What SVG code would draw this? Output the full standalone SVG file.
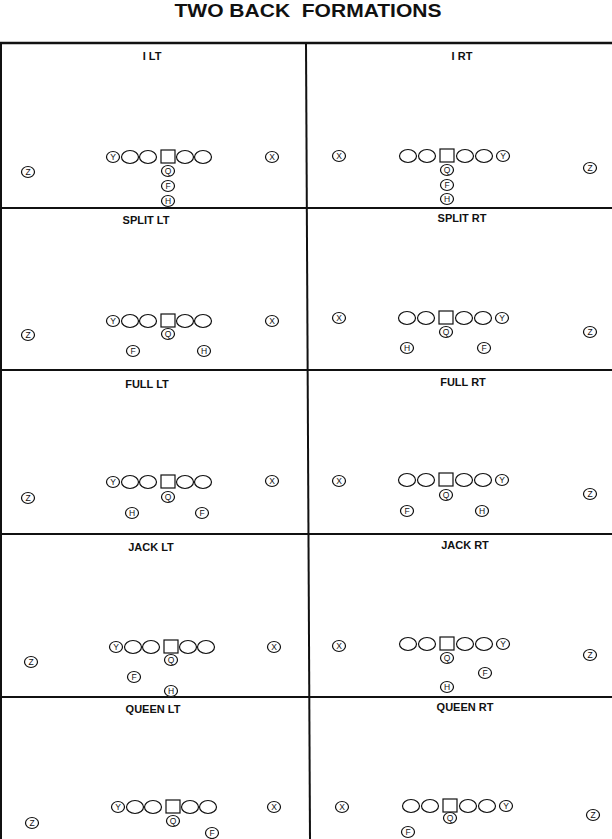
<svg xmlns="http://www.w3.org/2000/svg" xmlns:xlink="http://www.w3.org/1999/xlink" width="612" height="839" viewBox="0 0 612 839">
<style>
.bg{fill:#fff}
.grid{stroke:#111;stroke-width:2;fill:none}
.ol{fill:#fff;stroke:#111;stroke-width:1.2}
.p{fill:#fff;stroke:#111;stroke-width:1.2}
.lt{font-family:"Liberation Sans",Arial,sans-serif;font-size:8.5px;fill:#111;text-anchor:middle}
.lbl{font-family:"Liberation Sans",Arial,sans-serif;font-size:11px;font-weight:bold;fill:#111;text-anchor:middle}
.title{font-family:"Liberation Sans",Arial,sans-serif;font-size:18px;font-weight:bold;fill:#111;text-anchor:middle;white-space:pre}
</style>
<defs>
<g id="lineLT">
<ellipse class="p" cx="-55" cy="0" rx="6.5" ry="5.5"/><text class="lt" x="-55" y="3">Y</text>
<ellipse class="ol" cx="-38" cy="0" rx="8.5" ry="6.5"/>
<ellipse class="ol" cx="-20" cy="0" rx="8.5" ry="6.5"/>
<rect class="ol" x="-7" y="-7" width="14" height="13"/>
<ellipse class="ol" cx="17" cy="0" rx="8.5" ry="6.5"/>
<ellipse class="ol" cx="35" cy="0" rx="8.5" ry="6.5"/>
</g>
<g id="lineRT">
<ellipse class="ol" cx="-39" cy="0" rx="8.5" ry="6.5"/>
<ellipse class="ol" cx="-20" cy="0" rx="8.5" ry="6.5"/>
<rect class="ol" x="-7" y="-7" width="14" height="13"/>
<ellipse class="ol" cx="18" cy="0" rx="8.5" ry="6.5"/>
<ellipse class="ol" cx="37" cy="0" rx="8.5" ry="6.5"/>
<ellipse class="p" cx="56" cy="0" rx="6.5" ry="5.5"/><text class="lt" x="56" y="3">Y</text>
</g>
<g id="pc"><ellipse class="p" cx="0" cy="0" rx="6.5" ry="5.5"/></g>
</defs>
<rect class="bg" x="0" y="0" width="612" height="839"/>
<text class="title" x="308" y="17" textLength="267" lengthAdjust="spacingAndGlyphs">TWO BACK  FORMATIONS</text>
<g id="connectors">
<line class="grid" x1="0" y1="43" x2="612" y2="43" style="stroke-width:2.5"/>
<line class="grid" x1="306" y1="43" x2="310" y2="839"/>
<line class="grid" x1="1" y1="43" x2="1" y2="839"/>
<line class="grid" x1="0" y1="208" x2="612" y2="208"/>
<line class="grid" x1="0" y1="370" x2="612" y2="370"/>
<line class="grid" x1="0" y1="534" x2="612" y2="534"/>
<line class="grid" x1="0" y1="697" x2="612" y2="697"/>
</g>

<g id="i-lt">
<text class="lbl" x="152" y="60">I LT</text>
<use xlink:href="#lineLT" x="168" y="157"/>
<g id="i-lt-q"><use xlink:href="#pc" x="168" y="171"/><text class="lt" x="168" y="174">Q</text></g>
<g id="i-lt-f"><use xlink:href="#pc" x="168" y="186"/><text class="lt" x="168" y="189">F</text></g>
<g id="i-lt-h"><use xlink:href="#pc" x="168" y="201"/><text class="lt" x="168" y="204">H</text></g>
<g id="i-lt-z"><use xlink:href="#pc" x="28" y="172"/><text class="lt" x="28" y="175">Z</text></g>
<g id="i-lt-x"><use xlink:href="#pc" x="272" y="157"/><text class="lt" x="272" y="160">X</text></g>
</g>

<g id="i-rt">
<text class="lbl" x="462" y="60">I RT</text>
<use xlink:href="#lineRT" x="447" y="156"/>
<g id="i-rt-q"><use xlink:href="#pc" x="447" y="170"/><text class="lt" x="447" y="173">Q</text></g>
<g id="i-rt-f"><use xlink:href="#pc" x="447" y="185"/><text class="lt" x="447" y="188">F</text></g>
<g id="i-rt-h"><use xlink:href="#pc" x="447" y="199"/><text class="lt" x="447" y="202">H</text></g>
<g id="i-rt-z"><use xlink:href="#pc" x="590" y="168"/><text class="lt" x="590" y="171">Z</text></g>
<g id="i-rt-x"><use xlink:href="#pc" x="339" y="156"/><text class="lt" x="339" y="159">X</text></g>
</g>

<g id="split-lt">
<text class="lbl" x="146" y="224">SPLIT LT</text>
<use xlink:href="#lineLT" x="168" y="321"/>
<g id="split-lt-q"><use xlink:href="#pc" x="168" y="334"/><text class="lt" x="168" y="337">Q</text></g>
<g id="split-lt-f"><use xlink:href="#pc" x="133" y="351"/><text class="lt" x="133" y="354">F</text></g>
<g id="split-lt-h"><use xlink:href="#pc" x="204" y="351"/><text class="lt" x="204" y="354">H</text></g>
<g id="split-lt-z"><use xlink:href="#pc" x="28" y="335"/><text class="lt" x="28" y="338">Z</text></g>
<g id="split-lt-x"><use xlink:href="#pc" x="272" y="321"/><text class="lt" x="272" y="324">X</text></g>
</g>

<g id="split-rt">
<text class="lbl" x="462" y="222">SPLIT RT</text>
<use xlink:href="#lineRT" x="446" y="318"/>
<g id="split-rt-q"><use xlink:href="#pc" x="446" y="332"/><text class="lt" x="446" y="335">Q</text></g>
<g id="split-rt-h"><use xlink:href="#pc" x="407" y="348"/><text class="lt" x="407" y="351">H</text></g>
<g id="split-rt-f"><use xlink:href="#pc" x="484" y="348"/><text class="lt" x="484" y="351">F</text></g>
<g id="split-rt-z"><use xlink:href="#pc" x="590" y="332"/><text class="lt" x="590" y="335">Z</text></g>
<g id="split-rt-x"><use xlink:href="#pc" x="339" y="318"/><text class="lt" x="339" y="321">X</text></g>
</g>

<g id="full-lt">
<text class="lbl" x="147" y="388">FULL LT</text>
<use xlink:href="#lineLT" x="168" y="482"/>
<g id="full-lt-q"><use xlink:href="#pc" x="168" y="497"/><text class="lt" x="168" y="500">Q</text></g>
<g id="full-lt-h"><use xlink:href="#pc" x="132" y="513"/><text class="lt" x="132" y="516">H</text></g>
<g id="full-lt-f"><use xlink:href="#pc" x="202" y="513"/><text class="lt" x="202" y="516">F</text></g>
<g id="full-lt-z"><use xlink:href="#pc" x="28" y="498"/><text class="lt" x="28" y="501">Z</text></g>
<g id="full-lt-x"><use xlink:href="#pc" x="272" y="481"/><text class="lt" x="272" y="484">X</text></g>
</g>

<g id="full-rt">
<text class="lbl" x="463" y="386">FULL RT</text>
<use xlink:href="#lineRT" x="446" y="480"/>
<g id="full-rt-q"><use xlink:href="#pc" x="446" y="495"/><text class="lt" x="446" y="498">Q</text></g>
<g id="full-rt-f"><use xlink:href="#pc" x="407" y="511"/><text class="lt" x="407" y="514">F</text></g>
<g id="full-rt-h"><use xlink:href="#pc" x="482" y="511"/><text class="lt" x="482" y="514">H</text></g>
<g id="full-rt-z"><use xlink:href="#pc" x="590" y="494"/><text class="lt" x="590" y="497">Z</text></g>
<g id="full-rt-x"><use xlink:href="#pc" x="339" y="481"/><text class="lt" x="339" y="484">X</text></g>
</g>

<g id="jack-lt">
<text class="lbl" x="151" y="551">JACK LT</text>
<use xlink:href="#lineLT" x="171" y="647"/>
<g id="jack-lt-q"><use xlink:href="#pc" x="171" y="660"/><text class="lt" x="171" y="663">Q</text></g>
<g id="jack-lt-f"><use xlink:href="#pc" x="134" y="677"/><text class="lt" x="134" y="680">F</text></g>
<g id="jack-lt-h"><use xlink:href="#pc" x="171" y="691"/><text class="lt" x="171" y="694">H</text></g>
<g id="jack-lt-z"><use xlink:href="#pc" x="31" y="662"/><text class="lt" x="31" y="665">Z</text></g>
<g id="jack-lt-x"><use xlink:href="#pc" x="274" y="647"/><text class="lt" x="274" y="650">X</text></g>
</g>

<g id="jack-rt">
<text class="lbl" x="465" y="549">JACK RT</text>
<use xlink:href="#lineRT" x="447" y="644"/>
<g id="jack-rt-q"><use xlink:href="#pc" x="447" y="658"/><text class="lt" x="447" y="661">Q</text></g>
<g id="jack-rt-f"><use xlink:href="#pc" x="485" y="673"/><text class="lt" x="485" y="676">F</text></g>
<g id="jack-rt-h"><use xlink:href="#pc" x="447" y="687"/><text class="lt" x="447" y="690">H</text></g>
<g id="jack-rt-z"><use xlink:href="#pc" x="590" y="655"/><text class="lt" x="590" y="658">Z</text></g>
<g id="jack-rt-x"><use xlink:href="#pc" x="339" y="646"/><text class="lt" x="339" y="649">X</text></g>
</g>

<g id="queen-lt">
<text class="lbl" x="153" y="713">QUEEN LT</text>
<use xlink:href="#lineLT" x="173" y="807"/>
<g id="queen-lt-q"><use xlink:href="#pc" x="173" y="821"/><text class="lt" x="173" y="824">Q</text></g>
<g id="queen-lt-f"><use xlink:href="#pc" x="212" y="833"/><text class="lt" x="212" y="836">F</text></g>
<g id="queen-lt-z"><use xlink:href="#pc" x="32" y="823"/><text class="lt" x="32" y="826">Z</text></g>
<g id="queen-lt-x"><use xlink:href="#pc" x="274" y="807"/><text class="lt" x="274" y="810">X</text></g>
</g>

<g id="queen-rt">
<text class="lbl" x="465" y="711">QUEEN RT</text>
<use xlink:href="#lineRT" x="450" y="806"/>
<g id="queen-rt-q"><use xlink:href="#pc" x="450" y="818"/><text class="lt" x="450" y="821">Q</text></g>
<g id="queen-rt-f"><use xlink:href="#pc" x="408" y="832"/><text class="lt" x="408" y="835">F</text></g>
<g id="queen-rt-z"><use xlink:href="#pc" x="593" y="815"/><text class="lt" x="593" y="818">Z</text></g>
<g id="queen-rt-x"><use xlink:href="#pc" x="342" y="807"/><text class="lt" x="342" y="810">X</text></g>
</g>
</svg>
